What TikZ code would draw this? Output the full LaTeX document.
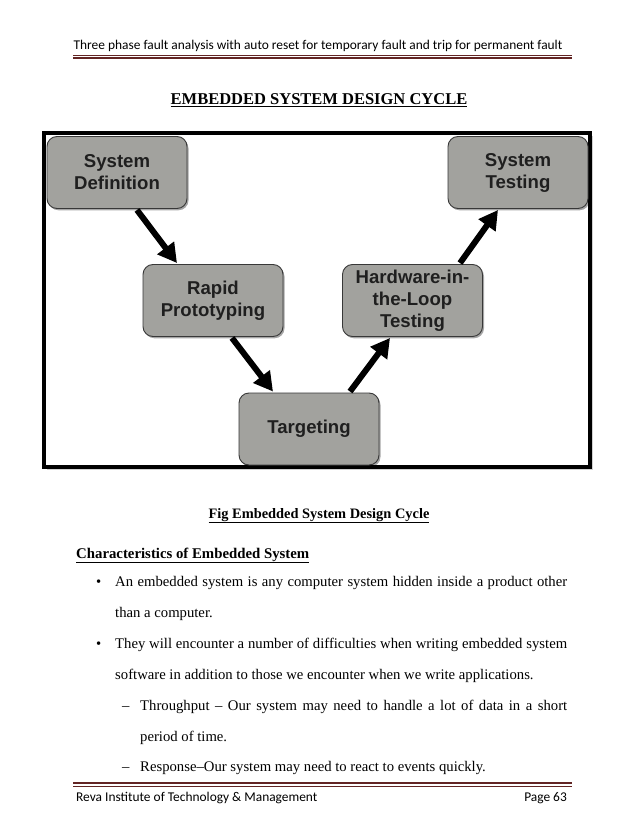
\documentclass[tikz,border=0pt]{standalone}
\usepackage{fontspec}
\setmainfont{Liberation Serif}
\newfontfamily\calib{Carlito}
\newfontfamily\arialf{Liberation Sans}
\usetikzlibrary{arrows.meta,shadows,calc}
\definecolor{hdr}{HTML}{622423}
\definecolor{boxgray}{HTML}{A2A29E}
\definecolor{boxline}{HTML}{383838}
\begin{document}
\begin{tikzpicture}[x=1pt,y=-1pt,
  stage/.style={draw=boxline, line width=0.9pt, fill=boxgray, rounded corners=10pt,
    minimum width=140pt, minimum height=72pt, inner sep=0pt, align=center,
    font=\arialf\bfseries\fontsize{18.6}{22}\selectfont, text=black!88,
    drop shadow={shadow xshift=1.5pt, shadow yshift=-1.8pt, opacity=0.35, fill=black}},
  flow/.style={line width=6pt, -{Triangle[length=19pt,width=20pt]}},
  body/.style={anchor=base west, inner sep=0pt, font=\fontsize{14.7}{17}\selectfont},
  hdrtext/.style={inner sep=0pt, font=\calib\fontsize{13.4}{15}\selectfont},
]
\useasboundingbox (0,0) rectangle (638,826);
\fill[white] (0,0) rectangle (638,826);

% header
\node[hdrtext, anchor=base] (hd) at (318,50) {Three phase fault analysis with auto reset for temporary fault and trip for permanent fault};
\draw[hdr, line width=0.8pt] (73,55) -- (572,55);
\draw[hdr, line width=2.6pt] (73,57.9) -- (572,57.9);

% title
\node[anchor=base, inner sep=0pt, font=\bfseries\fontsize{16.5}{18}\selectfont] (title) at (319,105) {\underline{EMBEDDED SYSTEM DESIGN CYCLE}};

% frame
\fill[black!18] (47,136) rectangle (593,470);
\draw[line width=3.5pt, fill=white] (44,133) rectangle (590,467);

% stages
\node[stage] (sd) at (117,172.5) {System\\Definition};
\node[stage] (rp) at (213,300.5) {Rapid\\Prototyping};
\node[stage] (tg) at (309,429) {Targeting};
\node[stage] (hil) at (412.5,300.5) {Hardware-in-\\the-Loop\\Testing};
\node[stage] (st) at (518,172.5) {System\\Testing};

% arrows
\draw[flow] ($(sd.south)+(20,1)$) -- ($(rp.north)+(-36,-1)$);
\draw[flow] ($(rp.south)+(19,1)$) -- ($(tg.north)+(-36,-1)$);
\draw[flow] ($(tg.north)+(41,-1)$) -- ($(hil.south)+(-22.5,1)$);
\draw[flow] ($(hil.north)+(47.5,-1)$) -- ($(st.south)+(-20,1)$);

% caption
\node[anchor=base, inner sep=0pt, font=\bfseries\fontsize{14.4}{17}\selectfont] (cap) at (319,518) {\underline{Fig Embedded System Design Cycle}};

% body
\node[body, font=\bfseries\fontsize{14.8}{17}\selectfont] (chr) at (76,558) {\underline{Characteristics of Embedded System}};
\node[body] (b1) at (96,586.5) {\textbullet};
\node[body] (l1) at (115,586.5) {\makebox[452pt][s]{An embedded system is any computer system hidden inside a product other}};
\node[body] (l2) at (115,617.5) {than a computer.};
\node[body] (b2) at (96,648.5) {\textbullet};
\node[body] (l3) at (115,648.5) {\makebox[452pt][s]{They will encounter a number of difficulties when writing embedded system}};
\node[body] (l4) at (115,679) {software in addition to those we encounter when we write applications.};
\node[body] (d1) at (122,710) {–};
\node[body] (l5) at (140,710) {\makebox[427pt][s]{Throughput – Our system may need to handle a lot of data in a short}};
\node[body] (l6) at (140,741) {period of time.};
\node[body] (d2) at (122,771.5) {–};
\node[body] (l7) at (140,771.5) {Response–Our system may need to react to events quickly.};

% footer
\draw[hdr, line width=2.6pt] (73,783) -- (572,783);
\draw[hdr, line width=0.8pt] (73,786) -- (572,786);
\node[hdrtext, anchor=base west] (ft) at (76,801) {Reva Institute of Technology \& Management};
\node[hdrtext, anchor=base east] (pg) at (567,801) {Page 63};
\end{tikzpicture}
\end{document}
